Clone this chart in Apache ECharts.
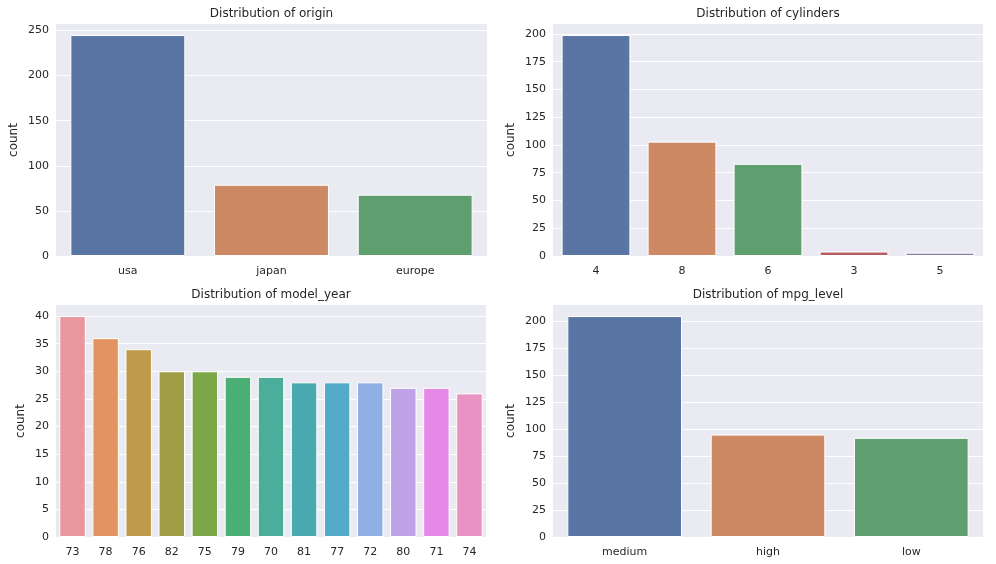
<!DOCTYPE html>
<html>
<head>
<meta charset="utf-8">
<script src="https://cdn.jsdelivr.net/npm/echarts@6/dist/echarts.min.js"></script>
<style>
  html, body { margin: 0; padding: 0; background: #fff; }
  #chart { width: 996px; height: 564px; }
</style>
</head>
<body>
<div id="chart"></div>
<script>
// ---------------------------- data ----------------------------
var originCats = ['usa', 'japan', 'europe'];
var originCounts = [245, 79, 68];

var cylinderCats = ['4', '8', '6', '3', '5'];
var cylinderCounts = [199, 103, 83, 4, 3];

var yearCats = ['73', '78', '76', '82', '75', '79', '70', '81', '77', '72', '80', '71', '74'];
var yearCounts = [40, 36, 34, 30, 30, 29, 29, 28, 28, 28, 27, 27, 26];

var mpgCats = ['medium', 'high', 'low'];
var mpgCounts = [205, 95, 92];

// seaborn "deep" (desaturated) and husl colours
var deepColors = ['#5975A4', '#CC8963', '#5F9E6E', '#B55D60', '#857AAB'];
var huslColors = ['#E9969F', '#E19460', '#BE9A4A', '#9F9E46', '#7BA748', '#4BAF75',
  '#4AAE9B', '#4AA9AE', '#53ABC9', '#8FAFE5', '#C0A2E9', '#E689E6', '#E893C3'];

// ---------------------------- helpers ----------------------------
var textColor = '#262626';
var fontFamily = 'DejaVu Sans';

var panels = [
  { title: 'Distribution of origin', cats: originCats, vals: originCounts, colors: deepColors,
    left: 56, top: 24, width: 431, max: 257.25, interval: 50, nameGap: 36 },
  { title: 'Distribution of cylinders', cats: cylinderCats, vals: cylinderCounts, colors: deepColors,
    left: 553, top: 24, width: 430, max: 208.95, interval: 25, nameGap: 36 },
  { title: 'Distribution of model_year', cats: yearCats, vals: yearCounts, colors: huslColors,
    left: 56, top: 305, width: 430, max: 42, interval: 5, nameGap: 29 },
  { title: 'Distribution of mpg_level', cats: mpgCats, vals: mpgCounts, colors: deepColors,
    left: 553, top: 305, width: 430, max: 215.25, interval: 25, nameGap: 36 }
];

var panelHeight = 232;
var titles = [], grids = [], xAxes = [], yAxes = [], series = [];

panels.forEach(function (p, i) {
  titles.push({
    text: p.title,
    left: p.left + p.width / 2,
    top: p.top - 16,
    textAlign: 'center',
    padding: 0,
    textStyle: { fontSize: 12, fontWeight: 'normal', color: textColor, fontFamily: fontFamily }
  });
  grids.push({
    left: p.left, top: p.top, width: p.width, height: panelHeight,
    show: true, backgroundColor: '#EAEAF2', borderWidth: 0
  });
  xAxes.push({
    type: 'category', gridIndex: i, data: p.cats,
    axisLine: { show: false }, axisTick: { show: false },
    axisLabel: { color: textColor, fontSize: 11, fontFamily: fontFamily, margin: 10 }
  });
  yAxes.push({
    type: 'value', gridIndex: i, min: 0, max: p.max, interval: p.interval,
    name: 'count', nameLocation: 'middle', nameRotate: 90, nameGap: p.nameGap,
    nameTextStyle: { fontSize: 12, color: textColor, fontFamily: fontFamily },
    axisLine: { show: false }, axisTick: { show: false },
    axisLabel: { color: textColor, fontSize: 11, fontFamily: fontFamily, margin: 7, showMaxLabel: false },
    splitLine: { show: true, showMaxLine: false, lineStyle: { color: '#ffffff', width: 1 } }
  });
  series.push({
    type: 'bar', xAxisIndex: i, yAxisIndex: i,
    barCategoryGap: '20%',
    silent: true,
    data: p.vals.map(function (v, j) {
      return { value: v, itemStyle: { color: p.colors[j % p.colors.length] } };
    }),
    itemStyle: { borderColor: '#ffffff', borderWidth: 1 }
  });
});

var chart = echarts.init(document.getElementById('chart'), null, { renderer: 'canvas' });
chart.setOption({
  animation: false,
  backgroundColor: '#ffffff',
  title: titles,
  grid: grids,
  xAxis: xAxes,
  yAxis: yAxes,
  series: series
});
</script>
</body>
</html>
